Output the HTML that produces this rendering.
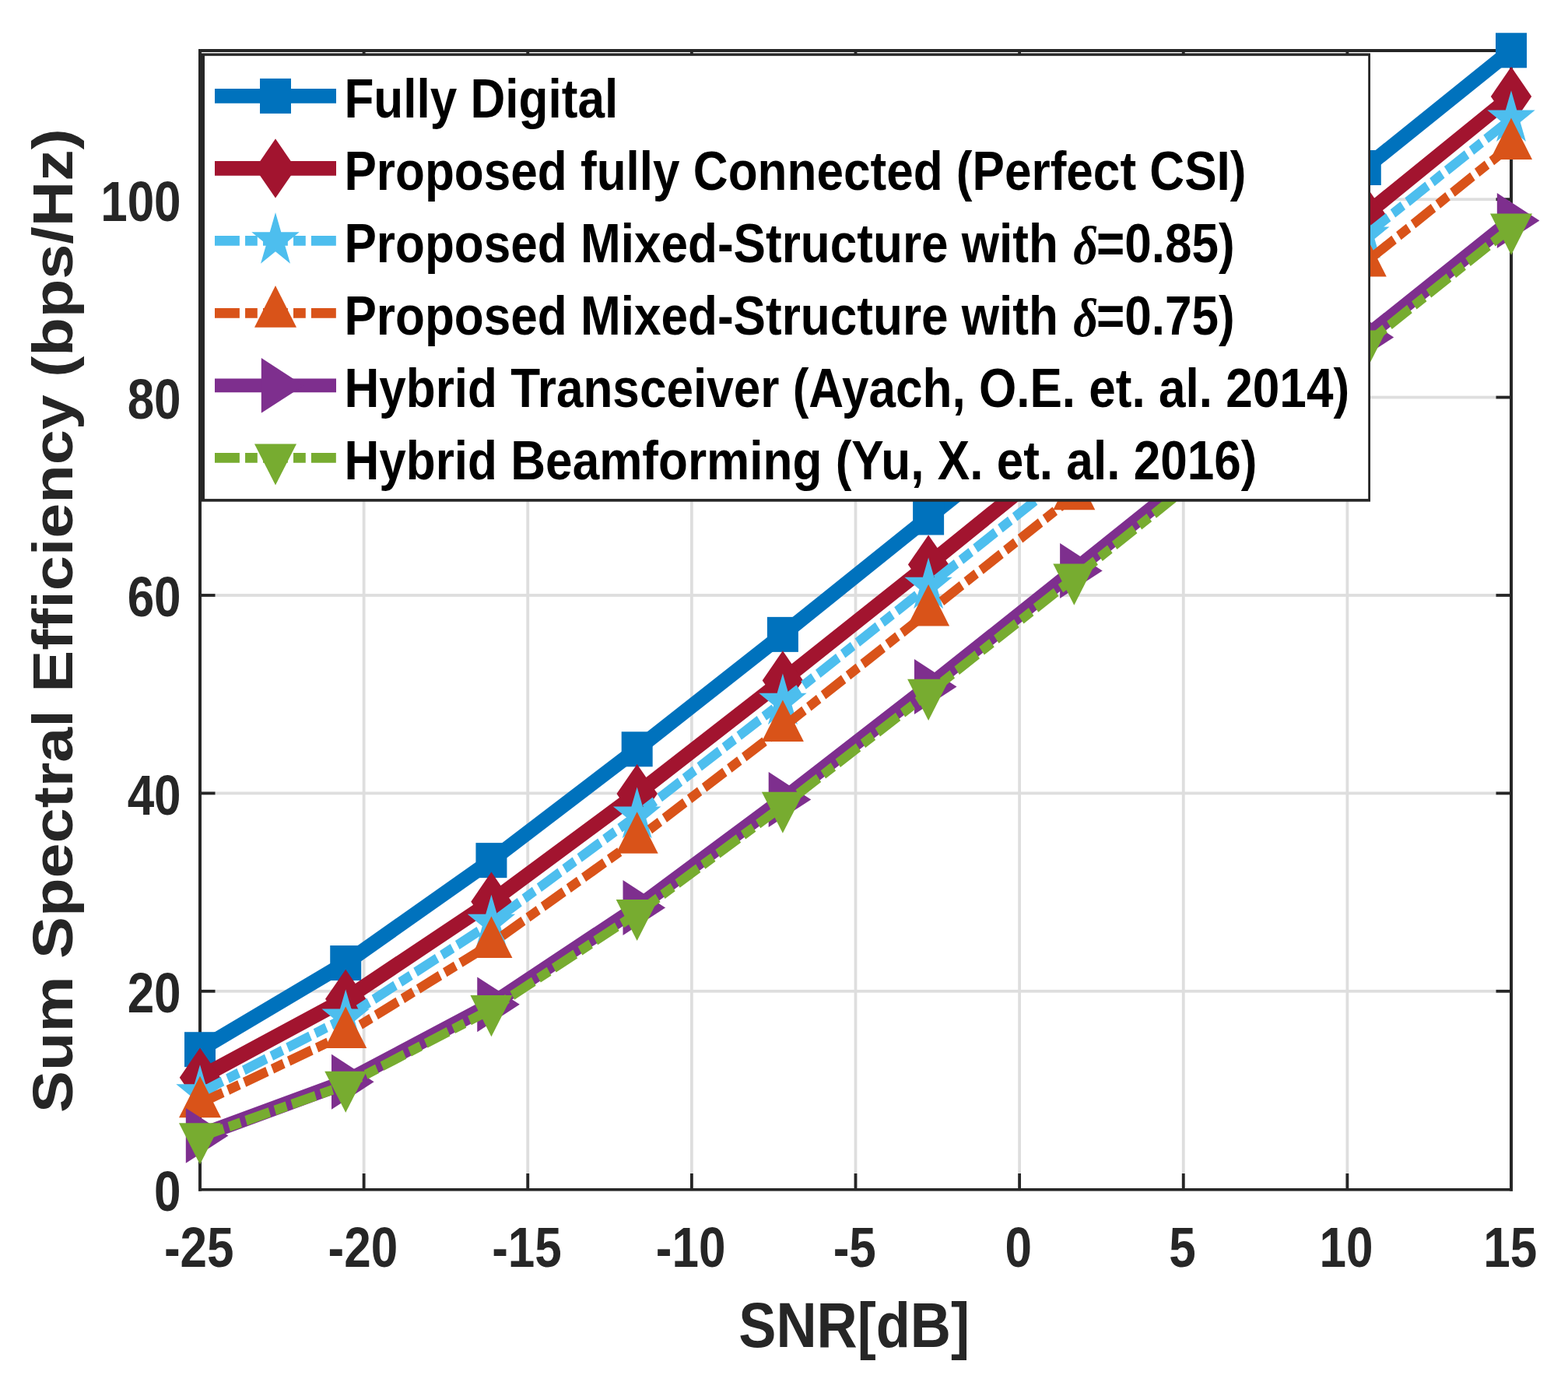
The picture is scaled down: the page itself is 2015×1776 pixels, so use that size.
<!DOCTYPE html><html><head><meta charset="utf-8"><title>Sum Spectral Efficiency vs SNR</title><style>html,body{margin:0;padding:0;background:#fff;width:2015px;height:1776px;overflow:hidden}</style></head><body><svg width="2015" height="1776" viewBox="0 0 2015 1578.667" preserveAspectRatio="none" style="display:block"><rect width="2015" height="1578.667" fill="#fff"/><rect x="465.725" y="59.556" width="3.800" height="1297.778" fill="#DEDEDE"/><rect x="676.350" y="59.556" width="3.800" height="1297.778" fill="#DEDEDE"/><rect x="886.975" y="59.556" width="3.800" height="1297.778" fill="#DEDEDE"/><rect x="1097.600" y="59.556" width="3.800" height="1297.778" fill="#DEDEDE"/><rect x="1308.225" y="59.556" width="3.800" height="1297.778" fill="#DEDEDE"/><rect x="1518.850" y="59.556" width="3.800" height="1297.778" fill="#DEDEDE"/><rect x="1729.475" y="59.556" width="3.800" height="1297.778" fill="#DEDEDE"/><rect x="259.000" y="1130.578" width="1681.000" height="3.378" fill="#DEDEDE"/><rect x="259.000" y="904.444" width="1681.000" height="3.378" fill="#DEDEDE"/><rect x="259.000" y="678.311" width="1681.000" height="3.378" fill="#DEDEDE"/><rect x="259.000" y="452.178" width="1681.000" height="3.378" fill="#DEDEDE"/><rect x="259.000" y="226.044" width="1681.000" height="3.378" fill="#DEDEDE"/>
<rect x="465.725" y="1340.444" width="3.800" height="16.889" fill="#262626"/><rect x="465.725" y="59.556" width="3.800" height="16.889" fill="#262626"/><rect x="676.350" y="1340.444" width="3.800" height="16.889" fill="#262626"/><rect x="676.350" y="59.556" width="3.800" height="16.889" fill="#262626"/><rect x="886.975" y="1340.444" width="3.800" height="16.889" fill="#262626"/><rect x="886.975" y="59.556" width="3.800" height="16.889" fill="#262626"/><rect x="1097.600" y="1340.444" width="3.800" height="16.889" fill="#262626"/><rect x="1097.600" y="59.556" width="3.800" height="16.889" fill="#262626"/><rect x="1308.225" y="1340.444" width="3.800" height="16.889" fill="#262626"/><rect x="1308.225" y="59.556" width="3.800" height="16.889" fill="#262626"/><rect x="1518.850" y="1340.444" width="3.800" height="16.889" fill="#262626"/><rect x="1518.850" y="59.556" width="3.800" height="16.889" fill="#262626"/><rect x="1729.475" y="1340.444" width="3.800" height="16.889" fill="#262626"/><rect x="1729.475" y="59.556" width="3.800" height="16.889" fill="#262626"/><rect x="259.000" y="1130.578" width="17.500" height="3.378" fill="#262626"/><rect x="1922.500" y="1130.578" width="17.500" height="3.378" fill="#262626"/><rect x="259.000" y="904.444" width="17.500" height="3.378" fill="#262626"/><rect x="1922.500" y="904.444" width="17.500" height="3.378" fill="#262626"/><rect x="259.000" y="678.311" width="17.500" height="3.378" fill="#262626"/><rect x="1922.500" y="678.311" width="17.500" height="3.378" fill="#262626"/><rect x="259.000" y="452.178" width="17.500" height="3.378" fill="#262626"/><rect x="1922.500" y="452.178" width="17.500" height="3.378" fill="#262626"/><rect x="259.000" y="226.044" width="17.500" height="3.378" fill="#262626"/><rect x="1922.500" y="226.044" width="17.500" height="3.378" fill="#262626"/>
<rect x="255.000" y="56.000" width="1689.000" height="3.556" fill="#262626"/><rect x="255.000" y="1357.333" width="1689.000" height="3.200" fill="#262626"/><rect x="255.000" y="56.000" width="4.000" height="1304.533" fill="#262626"/><rect x="1940.000" y="56.000" width="4.000" height="1304.533" fill="#262626"/>
<g font-family="'Liberation Sans', Arial, Helvetica, sans-serif" font-weight="bold" font-size="62" fill="#262626"><text transform="translate(255.70 1446.80) scale(1 1.033)" text-anchor="middle">-25</text><text transform="translate(466.32 1446.80) scale(1 1.033)" text-anchor="middle">-20</text><text transform="translate(676.95 1446.80) scale(1 1.033)" text-anchor="middle">-15</text><text transform="translate(887.58 1446.80) scale(1 1.033)" text-anchor="middle">-10</text><text transform="translate(1098.20 1446.80) scale(1 1.033)" text-anchor="middle">-5</text><text transform="translate(1308.83 1446.80) scale(1 1.033)" text-anchor="middle">0</text><text transform="translate(1519.45 1446.80) scale(1 1.033)" text-anchor="middle">5</text><text transform="translate(1730.08 1446.80) scale(1 1.033)" text-anchor="middle">10</text><text transform="translate(1940.70 1446.80) scale(1 1.033)" text-anchor="middle">15</text><text transform="translate(232.6 1382.70) scale(1 1.033)" text-anchor="end">0</text><text transform="translate(232.6 1156.57) scale(1 1.033)" text-anchor="end">20</text><text transform="translate(232.6 930.43) scale(1 1.033)" text-anchor="end">40</text><text transform="translate(232.6 704.30) scale(1 1.033)" text-anchor="end">60</text><text transform="translate(232.6 478.17) scale(1 1.033)" text-anchor="end">80</text><text transform="translate(232.6 252.03) scale(1 1.033)" text-anchor="end">100</text></g>
<text x="1097.6" y="1538.40" text-anchor="middle" font-family="'Liberation Sans', Arial, Helvetica, sans-serif" font-weight="bold" font-size="72.2" fill="#262626">SNR[dB]</text>
<text transform="translate(92.7 708.98) rotate(-90)" x="0" y="0" text-anchor="middle" font-family="'Liberation Sans', Arial, Helvetica, sans-serif" font-weight="bold" font-size="72.0" fill="#262626">Sum Spectral Efficiency (bps/Hz)</text>
<defs><clipPath id="ax"><rect x="257.00" y="58.13" width="1685.00" height="1300.27"/></clipPath></defs>
<polyline clip-path="url(#ax)" points="257.00,1198.86 444.22,1100.04 631.44,982.79 818.67,855.82 1005.89,724.77 1193.11,591.13 1380.33,457.71 1567.56,324.97 1754.78,191.55 1942.00,57.57" fill="none" stroke="#0072BD" stroke-width="17.6" stroke-linejoin="miter" stroke-miterlimit="10"/>
<rect x="237.00" y="1178.86" width="40" height="40" fill="#0072BD"/><rect x="424.22" y="1080.04" width="40" height="40" fill="#0072BD"/><rect x="611.44" y="962.79" width="40" height="40" fill="#0072BD"/><rect x="798.67" y="835.82" width="40" height="40" fill="#0072BD"/><rect x="985.89" y="704.77" width="40" height="40" fill="#0072BD"/><rect x="1173.11" y="571.13" width="40" height="40" fill="#0072BD"/><rect x="1360.33" y="437.71" width="40" height="40" fill="#0072BD"/><rect x="1547.56" y="304.97" width="40" height="40" fill="#0072BD"/><rect x="1734.78" y="171.55" width="40" height="40" fill="#0072BD"/><rect x="1922.00" y="37.57" width="40" height="40" fill="#0072BD"/>
<polyline clip-path="url(#ax)" points="257.00,1230.86 444.22,1141.20 631.44,1029.94 818.67,906.70 1005.89,777.24 1193.11,644.95 1380.33,510.40 1567.56,378.11 1754.78,245.37 1942.00,110.14" fill="none" stroke="#A2142F" stroke-width="17.6" stroke-linejoin="miter" stroke-miterlimit="10"/>
<polygon points="257.00,1196.96 283.20,1230.86 257.00,1264.76 230.80,1230.86" fill="#A2142F"/><polygon points="444.22,1107.30 470.42,1141.20 444.22,1175.10 418.02,1141.20" fill="#A2142F"/><polygon points="631.44,996.04 657.64,1029.94 631.44,1063.84 605.24,1029.94" fill="#A2142F"/><polygon points="818.67,872.80 844.87,906.70 818.67,940.60 792.47,906.70" fill="#A2142F"/><polygon points="1005.89,743.34 1032.09,777.24 1005.89,811.14 979.69,777.24" fill="#A2142F"/><polygon points="1193.11,611.05 1219.31,644.95 1193.11,678.85 1166.91,644.95" fill="#A2142F"/><polygon points="1380.33,476.50 1406.53,510.40 1380.33,544.30 1354.13,510.40" fill="#A2142F"/><polygon points="1567.56,344.21 1593.76,378.11 1567.56,412.01 1541.36,378.11" fill="#A2142F"/><polygon points="1754.78,211.47 1780.98,245.37 1754.78,279.27 1728.58,245.37" fill="#A2142F"/><polygon points="1942.00,76.24 1968.20,110.14 1942.00,144.04 1915.80,110.14" fill="#A2142F"/>
<polyline clip-path="url(#ax)" points="257.00,1248.50 444.22,1162.46 631.44,1054.25 818.67,931.35 1005.89,801.66 1193.11,669.26 1380.33,536.41 1567.56,402.99 1754.78,269.00 1942.00,135.70" fill="none" stroke="#4DBEEE" stroke-width="11.2" stroke-dasharray="31.882 7.173 15.742 7.173" stroke-linejoin="miter"/>
<polygon points="257.00,1216.20 264.25,1238.52 287.72,1238.52 268.73,1252.31 275.99,1274.63 257.00,1260.84 238.01,1274.63 245.27,1252.31 226.28,1238.52 249.75,1238.52" fill="#4DBEEE"/><polygon points="444.22,1130.16 451.47,1152.47 474.94,1152.47 455.96,1166.27 463.21,1188.59 444.22,1174.79 425.24,1188.59 432.49,1166.27 413.50,1152.47 436.97,1152.47" fill="#4DBEEE"/><polygon points="631.44,1021.95 638.70,1044.27 662.16,1044.27 643.18,1058.06 650.43,1080.38 631.44,1066.59 612.46,1080.38 619.71,1058.06 600.73,1044.27 624.19,1044.27" fill="#4DBEEE"/><polygon points="818.67,899.05 825.92,921.37 849.39,921.37 830.40,935.16 837.65,957.48 818.67,943.69 799.68,957.48 806.93,935.16 787.95,921.37 811.41,921.37" fill="#4DBEEE"/><polygon points="1005.89,769.36 1013.14,791.68 1036.61,791.68 1017.62,805.47 1024.87,827.79 1005.89,814.00 986.90,827.79 994.15,805.47 975.17,791.68 998.64,791.68" fill="#4DBEEE"/><polygon points="1193.11,636.96 1200.36,659.28 1223.83,659.28 1204.85,673.07 1212.10,695.39 1193.11,681.60 1174.13,695.39 1181.38,673.07 1162.39,659.28 1185.86,659.28" fill="#4DBEEE"/><polygon points="1380.33,504.11 1387.59,526.42 1411.05,526.42 1392.07,540.22 1399.32,562.54 1380.33,548.74 1361.35,562.54 1368.60,540.22 1349.61,526.42 1373.08,526.42" fill="#4DBEEE"/><polygon points="1567.56,370.69 1574.81,393.00 1598.27,393.01 1579.29,406.80 1586.54,429.12 1567.56,415.33 1548.57,429.12 1555.82,406.80 1536.84,393.01 1560.30,393.00" fill="#4DBEEE"/><polygon points="1754.78,236.70 1762.03,259.02 1785.50,259.02 1766.51,272.82 1773.76,295.13 1754.78,281.34 1735.79,295.13 1743.04,272.82 1724.06,259.02 1747.53,259.02" fill="#4DBEEE"/><polygon points="1942.00,103.40 1949.25,125.71 1972.72,125.72 1953.73,139.51 1960.99,161.83 1942.00,148.04 1923.01,161.83 1930.27,139.51 1911.28,125.72 1934.75,125.71" fill="#4DBEEE"/>
<polyline clip-path="url(#ax)" points="257.00,1260.48 444.22,1181.11 631.44,1077.99 818.67,958.71 1005.89,830.94 1193.11,698.88 1380.33,566.25 1567.56,432.95 1754.78,299.87 1942.00,166.00" fill="none" stroke="#D95319" stroke-width="11.2" stroke-dasharray="31.882 7.173 15.742 7.173" stroke-linejoin="miter"/>
<polygon points="257.00,1229.08 284.00,1276.68 230.00,1276.68" fill="#D95319"/><polygon points="444.22,1149.71 471.22,1197.31 417.22,1197.31" fill="#D95319"/><polygon points="631.44,1046.59 658.44,1094.19 604.44,1094.19" fill="#D95319"/><polygon points="818.67,927.31 845.67,974.91 791.67,974.91" fill="#D95319"/><polygon points="1005.89,799.54 1032.89,847.14 978.89,847.14" fill="#D95319"/><polygon points="1193.11,667.48 1220.11,715.08 1166.11,715.08" fill="#D95319"/><polygon points="1380.33,534.85 1407.33,582.45 1353.33,582.45" fill="#D95319"/><polygon points="1567.56,401.55 1594.56,449.15 1540.56,449.15" fill="#D95319"/><polygon points="1754.78,268.47 1781.78,316.07 1727.78,316.07" fill="#D95319"/><polygon points="1942.00,134.60 1969.00,182.20 1915.00,182.20" fill="#D95319"/>
<polyline clip-path="url(#ax)" points="257.00,1297.23 444.22,1235.84 631.44,1147.42 818.67,1036.95 1005.89,913.37 1193.11,784.47 1380.33,651.96 1567.56,518.54 1754.78,385.24 1942.00,252.04" fill="none" stroke="#7E2F8E" stroke-width="17.6" stroke-linejoin="miter" stroke-miterlimit="10"/>
<polygon points="293.40,1297.23 238.80,1265.71 238.80,1328.75" fill="#7E2F8E"/><polygon points="480.62,1235.84 426.02,1204.31 426.02,1267.36" fill="#7E2F8E"/><polygon points="667.84,1147.42 613.24,1115.90 613.24,1178.94" fill="#7E2F8E"/><polygon points="855.07,1036.95 800.47,1005.43 800.47,1068.47" fill="#7E2F8E"/><polygon points="1042.29,913.37 987.69,881.85 987.69,944.89" fill="#7E2F8E"/><polygon points="1229.51,784.47 1174.91,752.95 1174.91,816.00" fill="#7E2F8E"/><polygon points="1416.73,651.96 1362.13,620.44 1362.13,683.48" fill="#7E2F8E"/><polygon points="1603.96,518.54 1549.36,487.02 1549.36,550.06" fill="#7E2F8E"/><polygon points="1791.18,385.24 1736.58,353.71 1736.58,416.76" fill="#7E2F8E"/><polygon points="1978.40,252.04 1923.80,220.52 1923.80,283.57" fill="#7E2F8E"/>
<polyline clip-path="url(#ax)" points="257.00,1298.81 444.22,1239.57 631.44,1152.84 818.67,1043.40 1005.89,920.49 1193.11,791.71 1380.33,659.99 1567.56,526.68 1754.78,393.26 1942.00,259.96" fill="none" stroke="#77AC30" stroke-width="11.2" stroke-dasharray="31.882 7.173 15.742 7.173" stroke-linejoin="miter"/>
<polygon points="257.00,1330.11 284.00,1282.91 230.00,1282.91" fill="#77AC30"/><polygon points="444.22,1270.87 471.22,1223.67 417.22,1223.67" fill="#77AC30"/><polygon points="631.44,1184.14 658.44,1136.94 604.44,1136.94" fill="#77AC30"/><polygon points="818.67,1074.70 845.67,1027.50 791.67,1027.50" fill="#77AC30"/><polygon points="1005.89,951.79 1032.89,904.59 978.89,904.59" fill="#77AC30"/><polygon points="1193.11,823.01 1220.11,775.81 1166.11,775.81" fill="#77AC30"/><polygon points="1380.33,691.29 1407.33,644.09 1353.33,644.09" fill="#77AC30"/><polygon points="1567.56,557.98 1594.56,510.78 1540.56,510.78" fill="#77AC30"/><polygon points="1754.78,424.56 1781.78,377.36 1727.78,377.36" fill="#77AC30"/><polygon points="1942.00,291.26 1969.00,244.06 1915.00,244.06" fill="#77AC30"/>
<rect x="259.000" y="60.800" width="1502.000" height="512.267" fill="#262626"/><rect x="263.000" y="63.822" width="1495.200" height="506.044" fill="#fff"/>
<line x1="276" y1="109.69" x2="432" y2="109.69" fill="none" stroke="#0072BD" stroke-width="16.8" stroke-linejoin="miter" stroke-miterlimit="10"/><rect x="334.00" y="89.69" width="40" height="40" fill="#0072BD"/><text x="442.4" y="134.09" font-family="'Liberation Sans', Arial, Helvetica, sans-serif" font-weight="bold" font-size="62.1" fill="#000">Fully Digital</text><line x1="276" y1="192.36" x2="432" y2="192.36" fill="none" stroke="#A2142F" stroke-width="16.8" stroke-linejoin="miter" stroke-miterlimit="10"/><polygon points="354.00,158.46 380.20,192.36 354.00,226.26 327.80,192.36" fill="#A2142F"/><text x="442.4" y="216.76" font-family="'Liberation Sans', Arial, Helvetica, sans-serif" font-weight="bold" font-size="62.1" fill="#000">Proposed fully Connected (Perfect CSI)</text><line x1="276" y1="275.02" x2="432" y2="275.02" fill="none" stroke="#4DBEEE" stroke-width="11.3" stroke-dasharray="31.882 7.173 15.742 7.173" stroke-linejoin="miter"/><polygon points="354.00,242.72 361.25,265.04 384.72,265.04 365.73,278.84 372.99,301.15 354.00,287.36 335.01,301.15 342.27,278.84 323.28,265.04 346.75,265.04" fill="#4DBEEE"/><text x="442.4" y="299.42" font-family="'Liberation Sans', Arial, Helvetica, sans-serif" font-weight="bold" font-size="62.1" fill="#000">Proposed Mixed-Structure with <tspan font-family="'Liberation Serif', 'Times New Roman', serif" font-style="italic" font-weight="bold" dx="2" dy="2">&#948;</tspan><tspan dx="-2" dy="-2">=</tspan>0.85)</text><line x1="276" y1="357.69" x2="432" y2="357.69" fill="none" stroke="#D95319" stroke-width="11.3" stroke-dasharray="31.882 7.173 15.742 7.173" stroke-linejoin="miter"/><polygon points="354.00,326.29 381.00,373.89 327.00,373.89" fill="#D95319"/><text x="442.4" y="382.09" font-family="'Liberation Sans', Arial, Helvetica, sans-serif" font-weight="bold" font-size="62.1" fill="#000">Proposed Mixed-Structure with <tspan font-family="'Liberation Serif', 'Times New Roman', serif" font-style="italic" font-weight="bold" dx="2" dy="2">&#948;</tspan><tspan dx="-2" dy="-2">=</tspan>0.75)</text><line x1="276" y1="440.36" x2="432" y2="440.36" fill="none" stroke="#7E2F8E" stroke-width="15.9" stroke-linejoin="miter" stroke-miterlimit="10"/><polygon points="390.40,440.36 335.80,408.83 335.80,471.88" fill="#7E2F8E"/><text x="442.4" y="464.76" font-family="'Liberation Sans', Arial, Helvetica, sans-serif" font-weight="bold" font-size="62.1" fill="#000">Hybrid Transceiver (Ayach, O.E. et. al. 2014)</text><line x1="276" y1="523.02" x2="432" y2="523.02" fill="none" stroke="#77AC30" stroke-width="11.3" stroke-dasharray="31.882 7.173 15.742 7.173" stroke-linejoin="miter"/><polygon points="354.00,554.32 381.00,507.12 327.00,507.12" fill="#77AC30"/><text x="442.4" y="547.42" font-family="'Liberation Sans', Arial, Helvetica, sans-serif" font-weight="bold" font-size="62.1" fill="#000">Hybrid Beamforming (Yu, X. et. al. 2016)</text></svg></body></html>
